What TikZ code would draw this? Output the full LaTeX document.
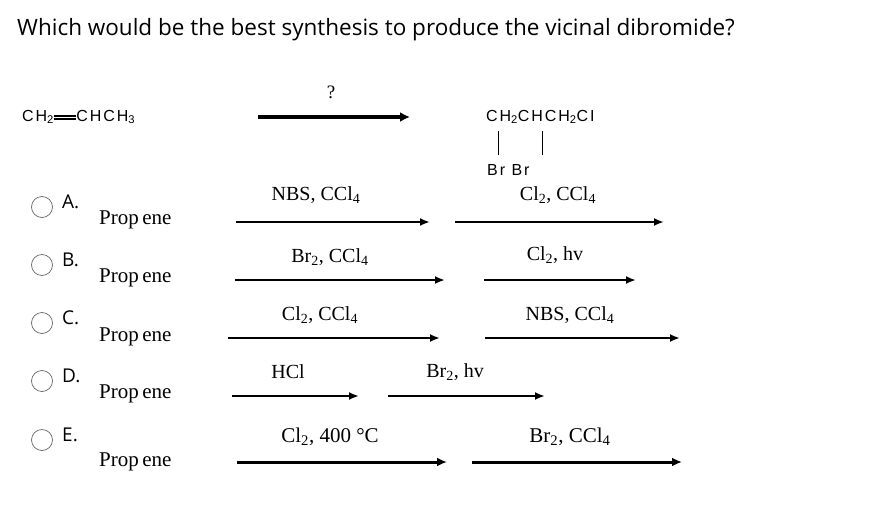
\documentclass[tikz,border=0pt]{standalone}
\usepackage{fontspec}
\setmainfont{Liberation Serif}
\newfontfamily\osans{Open Sans}
\newfontfamily\lsans[LetterSpace=12]{Liberation Sans}
\usetikzlibrary{arrows.meta}
\begin{document}
\begin{tikzpicture}[x=1pt,y=-1pt,
  rx/.style={line width=2.4pt,-{Latex[length=10pt,width=8pt]}},
  rxe/.style={line width=3pt,-{Latex[length=10pt,width=9pt]}},
  lab/.style={font=\fontsize{20}{22}\selectfont,inner sep=0pt},
  prop/.style={font=\fontsize{21}{22}\selectfont,inner sep=0pt,anchor=west},
  opt/.style={circle,draw=black!60,line width=0.7pt,minimum size=21pt,inner sep=0pt},
  let/.style={font=\osans\fontsize{19}{20}\selectfont,inner sep=0pt,anchor=west},
  chem/.style={font=\lsans\fontsize{16}{18}\selectfont,inner sep=0pt,anchor=west}]
\useasboundingbox (0,0) rectangle (880,514);
\node[anchor=west,inner sep=0pt,font=\osans\fontsize{22.5}{26}\selectfont] (title) at (17,30) {Which would be the best synthesis to produce the vicinal dibromide?};
% top reaction
\node[chem] (r) at (22,117) {CH\textsubscript{2}\rule[0.2ex]{1.4em}{1.1pt}\hspace{-1.4em}\rule[0.55ex]{1.4em}{1.1pt}CHCH\textsubscript{3}};
\coordinate (t1) at (258,117); \coordinate (t2) at (410,117);
\draw[line width=3.2pt,-{Latex[length=10pt,width=10pt]}] (t1) -- (t2);
\node[lab,font=\fontsize{19}{20}\selectfont] (q) at (331,92) {?};
\node[chem] (p) at (486,117) {CH\textsubscript{2}CHCH\textsubscript{2}CI};
\coordinate (b1) at (498,131); \coordinate (b1e) at (498,155);
\coordinate (b2) at (542,131); \coordinate (b2e) at (542,155);
\draw[line width=0.9pt] (b1) -- (b1e) (b2) -- (b2e);
\node[chem] (br) at (487,170) {Br\hspace{0.4em}Br};
% options
\foreach \n/\y/\L/\py in {A/207/A./220,B/265/B./278,C/323/C./337,D/381/D./394,E/440/E./462}{
  \node[opt] (c\n) at (42,\y) {};
  \node[let] (l\n) at (62,\y-5) {\L};
  \node[prop] (p\n) at (99,\py) {Prop\,ene};
}
% A
\coordinate (a1) at (236,222); \coordinate (a2) at (430,222);
\coordinate (a3) at (455,222); \coordinate (a4) at (664,222);
\draw[rx] (a1) -- (a2); \draw[rx] (a3) -- (a4);
\node[lab] (la1) at (316,195) {NBS, CCl\textsubscript{4}};
\node[lab] (la2) at (558,195) {Cl\textsubscript{2}, CCl\textsubscript{4}};
% B
\coordinate (bb1) at (235,280); \coordinate (bb2) at (445,280);
\coordinate (bb3) at (484,280); \coordinate (bb4) at (636,280);
\draw[rx] (bb1) -- (bb2); \draw[rx] (bb3) -- (bb4);
\node[lab] (lb1) at (330,257) {Br\textsubscript{2}, CCl\textsubscript{4}};
\node[lab] (lb2) at (555,255) {Cl\textsubscript{2}, hv};
% C
\coordinate (cc1) at (228,338); \coordinate (cc2) at (440,338);
\coordinate (cc3) at (485,338); \coordinate (cc4) at (680,338);
\draw[rx] (cc1) -- (cc2); \draw[rx] (cc3) -- (cc4);
\node[lab] (lc1) at (320,315) {Cl\textsubscript{2}, CCl\textsubscript{4}};
\node[lab] (lc2) at (570,315) {NBS, CCl\textsubscript{4}};
% D
\coordinate (d1) at (232,396); \coordinate (d2) at (359,396);
\coordinate (d3) at (388,396); \coordinate (d4) at (545,396);
\draw[rx] (d1) -- (d2); \draw[rx] (d3) -- (d4);
\node[lab] (ld1) at (288,372) {HCl};
\node[lab] (ld2) at (455,372) {Br\textsubscript{2}, hv};
% E
\coordinate (e1) at (237,462); \coordinate (e2) at (447,462);
\coordinate (e3) at (472,462); \coordinate (e4) at (682,462);
\draw[rxe] (e1) -- (e2); \draw[rxe] (e3) -- (e4);
\node[lab,font=\fontsize{21}{22}\selectfont] (le1) at (330,437) {Cl\textsubscript{2}, 400 \textdegree C};
\node[lab,font=\fontsize{21}{22}\selectfont] (le2) at (570,437) {Br\textsubscript{2}, CCl\textsubscript{4}};
\end{tikzpicture}
\end{document}
